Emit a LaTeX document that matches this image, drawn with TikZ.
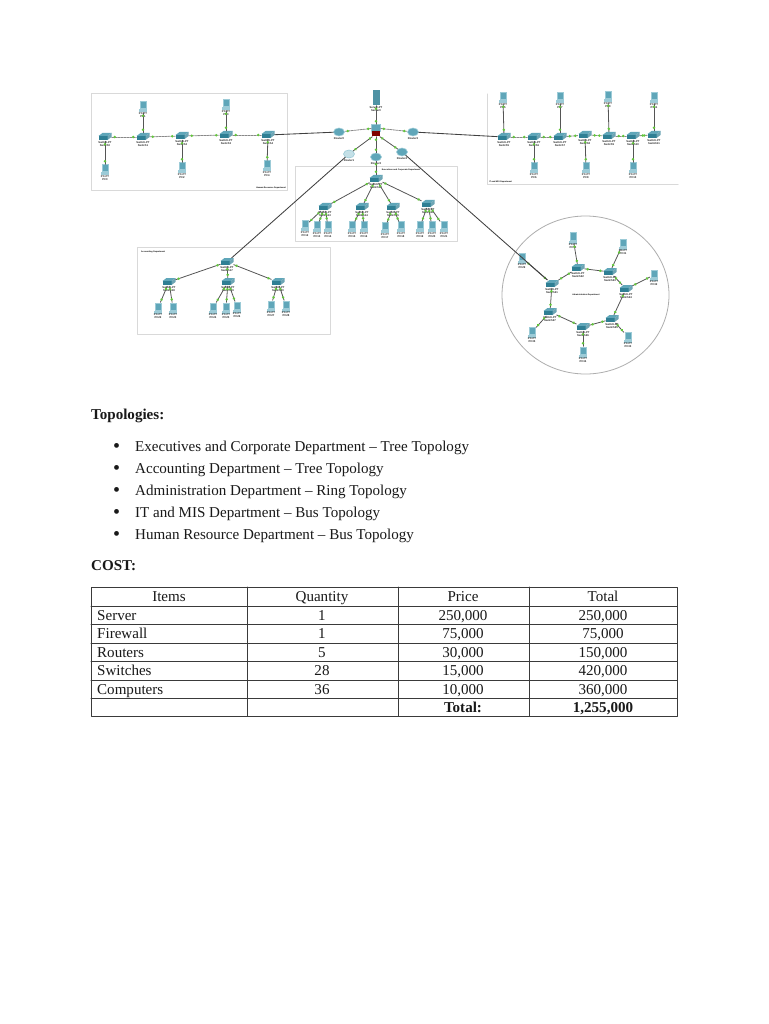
\documentclass[tikz,border=0pt]{standalone}
\usepackage{fontspec}
\setmainfont{Liberation Serif}
\setsansfont{Liberation Sans}
\usetikzlibrary{decorations.markings,shapes.geometric}
\definecolor{devlight}{HTML}{9CCBD7}
\definecolor{devmid}{HTML}{5FA6B9}
\definecolor{devdark}{HTML}{2F7F94}
\definecolor{linkgreen}{HTML}{62C63A}
\definecolor{linkgray}{HTML}{555555}
\definecolor{framegray}{HTML}{D9D9D9}
\definecolor{rulegray}{HTML}{3A3A3A}
\tikzset{
  devtext/.style={font=\sffamily\bfseries\fontsize{2.7}{3}\selectfont,align=center,inner sep=0pt,text=black!85},
  pcnode/.style={minimum width=8pt,minimum height=11pt,inner sep=0pt,
    label={[devtext,label distance=0pt]below:PC-PT\\#1},
    path picture={
      \coordinate (o) at (path picture bounding box.north west);
      \fill[devlight] ([shift={(0.5,0)}]o) rectangle ([shift={(7.5,8)}]o);
      \fill[devmid] ([shift={(1.5,1)}]o) rectangle ([shift={(6.5,7)}]o);
      \fill[devlight] ([shift={(0,8)}]o) rectangle ([shift={(8,11)}]o);
    }},
  swnode/.style={minimum width=13pt,minimum height=8pt,inner sep=0pt,
    label={[devtext,label distance=0pt]below:Switch-PT\\#1},
    path picture={
      \coordinate (o) at (path picture bounding box.north west);
      \fill[devmid] ([shift={(0,3)}]o) -- ([shift={(4,0)}]o) -- ([shift={(13,0)}]o) -- ([shift={(9,3)}]o) -- cycle;
      \fill[devdark] ([shift={(0,3)}]o) rectangle ([shift={(9,7)}]o);
      \fill[devdark!70] ([shift={(9,3)}]o) -- ([shift={(13,0)}]o) -- ([shift={(13,4)}]o) -- ([shift={(9,7)}]o) -- cycle;
    }},
  routernode/.style={ellipse,fill=devmid,draw=devlight,line width=.6pt,minimum width=11pt,minimum height=8pt,inner sep=0pt,
    label={[devtext,label distance=1pt]below:#1}},
  serverbox/.style={rectangle,fill=devdark!85,minimum width=7pt,minimum height=15pt,inner sep=0pt,
    label={[devtext,label distance=1pt]below:Server-PT\\Server0}},
  wallbox/.style={rectangle,fill=red!50!black,minimum width=8pt,minimum height=5pt,inner sep=0pt},
  link/.style={draw=linkgray,line width=.8pt,postaction={decorate,decoration={markings,
      mark=at position 3pt with {\fill[linkgreen] circle (1.4pt);},
      mark=at position -3pt with {\fill[linkgreen] circle (1.4pt);}}}},
  buslink/.style={link,dash pattern=on 2pt off 1pt,draw=linkgray!70},
  trunk/.style={draw=black!75,line width=.85pt},
  frame/.style={draw=framegray,line width=1pt},
  areatext/.style={font=\sffamily\bfseries\fontsize{2.1}{3}\selectfont,inner sep=0pt},
  doctext/.style={font=\fontsize{15.06}{18}\selectfont,anchor=base west,inner sep=0pt,text=black!90},
  boldtext/.style={doctext,font=\fontsize{15.06}{18}\selectfont\bfseries},
  bulletmark/.style={font=\fontsize{20}{20}\selectfont,anchor=base west,inner sep=0pt,text=black!90},
  cell/.style={font=\fontsize{15.06}{18}\selectfont,anchor=base,inner sep=0pt,text=black!90},
  boldcell/.style={cell,font=\fontsize{15.06}{18}\selectfont\bfseries},
  rulethin/.style={draw=rulegray,line width=1pt},
}

\begin{document}
\begin{tikzpicture}[x=1pt,y=-1pt,line cap=round,line join=round]
  \fill[white] (0,0) rectangle (768,1024);
  \useasboundingbox (0,0) rectangle (768,1024);
  % area frames
  \draw[frame] (91,94) rectangle (287,191);
  \draw[frame] (295,167) rectangle (457,241);
  \draw[frame] (487,94) -- (487,185) -- (678,185);
  \draw[frame] (137,247) rectangle (330,334);
  \draw[framegray!80!black,line width=.8pt] (585.5,295) ellipse (83.5 and 79);
  \node[areatext,anchor=east] (hrname) at (286,188) {Human Resource Department};
  \node[areatext] (exname) at (401,170) {Executives and Corporate Department};
  \node[areatext,anchor=west] (itname) at (489,182) {IT and MIS Department};
  \node[areatext,anchor=west] (acname) at (141,252) {Accounting Department};
  \node[areatext] (adname) at (586,295) {Administration Department};
  % core
  \node[serverbox] (server) at (376,98) {};
  \node[routernode=Switch,rectangle,minimum width=9pt,minimum height=7pt] (core) at (376,128) {};
  \node[wallbox] (wall) at (376,134) {};
  \node[routernode=Router0] (rleft) at (339,132) {};
  \node[routernode=Router3] (rright) at (413,132) {};
  \node[routernode=Router1,fill=devlight!60] (racc) at (349,154) {};
  \node[routernode=Router4] (rring) at (402,152) {};
  \node[routernode=Router2] (rmid) at (376,157) {};
  \draw[link] (server) -- (core);
  \draw[buslink] (core) -- (rleft);
  \draw[buslink] (core) -- (rright);
  \draw[link] (wall) -- (racc);
  \draw[link] (wall) -- (rring);
  \draw[link] (wall) -- (rmid);
  % human resource, bus
  \node[swnode=Switch0] (hs1) at (105,137) {};
  \node[swnode=Switch1] (hs2) at (143,137) {};
  \node[swnode=Switch2] (hs3) at (182,136) {};
  \node[swnode=Switch3] (hs4) at (226,135) {};
  \node[swnode=Switch4] (hs5) at (268,135) {};
  \node[pcnode=PC0] (hp1) at (105,170) {};
  \node[pcnode=PC1] (hp2) at (143,107) {};
  \node[pcnode=PC2] (hp3) at (182,168) {};
  \node[pcnode=PC3] (hp4) at (226,105) {};
  \node[pcnode=PC4] (hp5) at (267,166) {};
  \draw[buslink] (hs1) -- (hs2);
  \draw[buslink] (hs2) -- (hs3);
  \draw[buslink] (hs3) -- (hs4);
  \draw[buslink] (hs4) -- (hs5);
  \draw[link] (hs1) -- (hp1);
  \draw[link] (hs2) -- (hp2);
  \draw[link] (hs3) -- (hp3);
  \draw[link] (hs4) -- (hp4);
  \draw[link] (hs5) -- (hp5);
  \draw[trunk] (hs5) -- (rleft);
  % it and mis, bus
  \node[swnode=Switch5] (is1) at (504,137) {};
  \node[swnode=Switch6] (is2) at (534,137) {};
  \node[swnode=Switch7] (is3) at (560,137) {};
  \node[swnode=Switch8] (is4) at (585,135) {};
  \node[swnode=Switch9] (is5) at (609,136) {};
  \node[swnode=Switch10] (is6) at (633,136) {};
  \node[swnode=Switch11] (is7) at (654,135) {};
  \node[pcnode=PC5] (ip1) at (503,98) {};
  \node[pcnode=PC6] (ip2) at (534,168) {};
  \node[pcnode=PC7] (ip3) at (560,98) {};
  \node[pcnode=PC8] (ip4) at (586,168) {};
  \node[pcnode=PC9] (ip5) at (608,97) {};
  \node[pcnode=PC10] (ip6) at (633,168) {};
  \node[pcnode=PC11] (ip7) at (654,98) {};
  \draw[buslink] (is1) -- (is2);
  \draw[buslink] (is2) -- (is3);
  \draw[buslink] (is3) -- (is4);
  \draw[buslink] (is4) -- (is5);
  \draw[buslink] (is5) -- (is6);
  \draw[buslink] (is6) -- (is7);
  \draw[link] (is1) -- (ip1);
  \draw[link] (is2) -- (ip2);
  \draw[link] (is3) -- (ip3);
  \draw[link] (is4) -- (ip4);
  \draw[link] (is5) -- (ip5);
  \draw[link] (is6) -- (ip6);
  \draw[link] (is7) -- (ip7);
  \draw[trunk] (rright) -- (is1);
  % executives, tree
  \node[swnode=Switch12] (es0) at (376,179) {};
  \node[swnode=Switch13] (es1) at (325,207) {};
  \node[swnode=Switch14] (es2) at (362,207) {};
  \node[swnode=Switch15] (es3) at (393,207) {};
  \node[swnode=Switch16] (es4) at (428,204) {};
  \node[pcnode=PC12] (ep1) at (305,226) {};
  \node[pcnode=PC13] (ep2) at (317,227) {};
  \node[pcnode=PC14] (ep3) at (328,227) {};
  \node[pcnode=PC15] (ep4) at (352,227) {};
  \node[pcnode=PC16] (ep5) at (364,227) {};
  \node[pcnode=PC17] (ep6) at (385,228) {};
  \node[pcnode=PC18] (ep7) at (401,227) {};
  \node[pcnode=PC19] (ep8) at (420,227) {};
  \node[pcnode=PC20] (ep9) at (432,227) {};
  \node[pcnode=PC21] (ep10) at (444,227) {};
  \draw[link] (rmid) -- (es0);
  \draw[link] (es0) -- (es1);
  \draw[link] (es0) -- (es2);
  \draw[link] (es0) -- (es3);
  \draw[link] (es0) -- (es4);
  \draw[link] (es1) -- (ep1);
  \draw[link] (es1) -- (ep2);
  \draw[link] (es1) -- (ep3);
  \draw[link] (es2) -- (ep4);
  \draw[link] (es2) -- (ep5);
  \draw[link] (es3) -- (ep6);
  \draw[link] (es3) -- (ep7);
  \draw[link] (es4) -- (ep8);
  \draw[link] (es4) -- (ep9);
  \draw[link] (es4) -- (ep10);
  % accounting, tree
  \node[swnode=Switch17] (as0) at (227,262) {};
  \node[swnode=Switch18] (as1) at (169,282) {};
  \node[swnode=Switch19] (as2) at (228,282) {};
  \node[swnode=Switch20] (as3) at (278,282) {};
  \node[pcnode=PC22] (ap1) at (158,308) {};
  \node[pcnode=PC23] (ap2) at (173,308) {};
  \node[pcnode=PC24] (ap3) at (213,308) {};
  \node[pcnode=PC25] (ap4) at (226,308) {};
  \node[pcnode=PC26] (ap5) at (237,307) {};
  \node[pcnode=PC27] (ap6) at (271,306) {};
  \node[pcnode=PC28] (ap7) at (286,306) {};
  \draw[link] (as0) -- (as1);
  \draw[link] (as0) -- (as2);
  \draw[link] (as0) -- (as3);
  \draw[link] (as1) -- (ap1);
  \draw[link] (as1) -- (ap2);
  \draw[link] (as2) -- (ap3);
  \draw[link] (as2) -- (ap4);
  \draw[link] (as2) -- (ap5);
  \draw[link] (as3) -- (ap6);
  \draw[link] (as3) -- (ap7);
  \draw[trunk] (racc) -- (as0);
  % administration, ring
  \node[swnode=Switch21] (rs1) at (552,284) {};
  \node[swnode=Switch22] (rs2) at (578,268) {};
  \node[swnode=Switch23] (rs3) at (610,272) {};
  \node[swnode=Switch24] (rs4) at (626,289) {};
  \node[swnode=Switch25] (rs5) at (612,319) {};
  \node[swnode=Switch26] (rs6) at (583,327) {};
  \node[swnode=Switch27] (rs7) at (550,312) {};
  \node[pcnode=PC29] (rp1) at (522,258) {};
  \node[pcnode=PC30] (rp2) at (573,238) {};
  \node[pcnode=PC31] (rp3) at (623,244) {};
  \node[pcnode=PC32] (rp4) at (654,275) {};
  \node[pcnode=PC33] (rp5) at (628,337) {};
  \node[pcnode=PC34] (rp6) at (583,352) {};
  \node[pcnode=PC35] (rp7) at (532,332) {};
  \draw[link] (rs1) -- (rs2);
  \draw[link] (rs2) -- (rs3);
  \draw[link] (rs3) -- (rs4);
  \draw[link] (rs4) -- (rs5);
  \draw[link] (rs5) -- (rs6);
  \draw[link] (rs6) -- (rs7);
  \draw[link] (rs7) -- (rs1);
  \draw[link] (rs1) -- (rp1);
  \draw[link] (rs2) -- (rp2);
  \draw[link] (rs3) -- (rp3);
  \draw[link] (rs4) -- (rp4);
  \draw[link] (rs5) -- (rp5);
  \draw[link] (rs6) -- (rp6);
  \draw[link] (rs7) -- (rp7);
  \draw[trunk] (rring) -- (rs1);
  % text
  \node[boldtext] (toptitle) at (91,419) {Topologies:};
  \node[bulletmark] (b1) at (113,452) {•};
  \node[bulletmark] (b2) at (113,474) {•};
  \node[bulletmark] (b3) at (113,496) {•};
  \node[bulletmark] (b4) at (113,518) {•};
  \node[bulletmark] (b5) at (113,540) {•};
  \node[doctext] (t1) at (135,451) {Executives and Corporate Department – Tree Topology};
  \node[doctext] (t2) at (135,473) {Accounting Department – Tree Topology};
  \node[doctext] (t3) at (135,495) {Administration Department – Ring Topology};
  \node[doctext] (t4) at (135,517) {IT and MIS Department – Bus Topology};
  \node[doctext] (t5) at (135,539) {Human Resource Department – Bus Topology};
  \node[boldtext] (costtitle) at (91,570) {COST:};
  % cost table
  \draw[rulethin] (91,587) rectangle (677,716);
  \draw[rulethin] (91,606) -- (677,606);
  \draw[rulethin] (91,624) -- (677,624);
  \draw[rulethin] (91,643) -- (677,643);
  \draw[rulethin] (91,661) -- (677,661);
  \draw[rulethin] (91,680) -- (677,680);
  \draw[rulethin] (91,698) -- (677,698);
  \draw[rulethin] (247,587) -- (247,716);
  \draw[rulethin] (398,587) -- (398,716);
  \draw[rulethin] (529,587) -- (529,716);
  \node[cell] (h1) at (169,601) {Items};
  \node[cell] (h2) at (322,601) {Quantity};
  \node[cell] (h3) at (463,601) {Price};
  \node[cell] (h4) at (603,601) {Total};
  \node[doctext] (a1) at (97,620) {Server};
  \node[cell] (a2) at (322,620) {1};
  \node[cell] (a3) at (463,620) {250,000};
  \node[cell] (a4) at (603,620) {250,000};
  \node[doctext] (c1) at (97,638) {Firewall};
  \node[cell] (c2) at (322,638) {1};
  \node[cell] (c3) at (463,638) {75,000};
  \node[cell] (c4) at (603,638) {75,000};
  \node[doctext] (d1) at (97,657) {Routers};
  \node[cell] (d2) at (322,657) {5};
  \node[cell] (d3) at (463,657) {30,000};
  \node[cell] (d4) at (603,657) {150,000};
  \node[doctext] (e1) at (97,675) {Switches};
  \node[cell] (e2) at (322,675) {28};
  \node[cell] (e3) at (463,675) {15,000};
  \node[cell] (e4) at (603,675) {420,000};
  \node[doctext] (f1) at (97,694) {Computers};
  \node[cell] (f2) at (322,694) {36};
  \node[cell] (f3) at (463,694) {10,000};
  \node[cell] (f4) at (603,694) {360,000};
  \node[boldcell] (g3) at (463,712) {Total:};
  \node[boldcell] (g4) at (603,712) {1,255,000};
\end{tikzpicture}
\end{document}
